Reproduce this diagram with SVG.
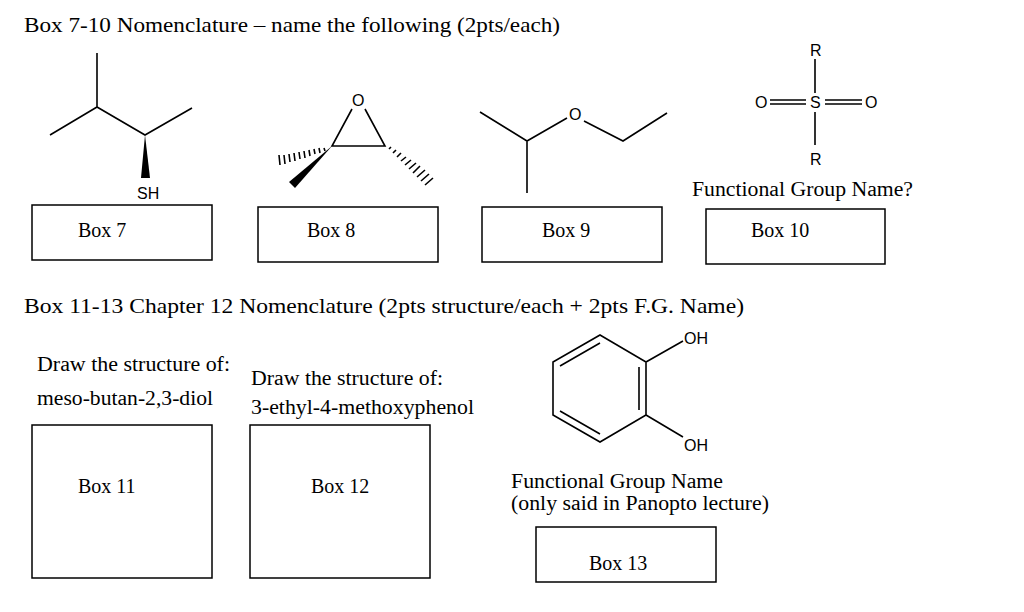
<svg xmlns="http://www.w3.org/2000/svg" width="1024" height="612" viewBox="0 0 1024 612">
<style>
.t{font-family:"Liberation Serif",serif;font-size:21px;fill:#000}
.b{font-family:"Liberation Serif",serif;font-size:20px;fill:#000}
.s{font-family:"Liberation Serif",serif;font-size:20px;fill:#000}
.a{font-family:"Liberation Sans",Arial,sans-serif;font-size:16px;fill:#000}
.bx{fill:#fff;stroke:#000;stroke-width:1.5}
.bd{stroke:#000;stroke-width:1.6;fill:none}
</style>
<rect width="1024" height="612" fill="#fff"/>
<text class="t" x="24" y="32" textLength="536" lengthAdjust="spacingAndGlyphs">Box 7-10 Nomenclature – name the following (2pts/each)</text>
<text class="t" x="24" y="313" textLength="720" lengthAdjust="spacingAndGlyphs">Box 11-13 Chapter 12 Nomenclature (2pts structure/each + 2pts F.G. Name)</text>
<g id="mol7">
<path class="bd" d="M97,53 V107 M50,135 L97,107 L145,135 L192,108"/>
<polygon points="145,135 141,178 150,178"/>
<text class="a" x="137" y="199">SH</text>
</g>
<g id="mol8">
<text class="a" x="352" y="106">O</text>
<path class="bd" d="M352,109 L332,146 L385,146 L365,109"/>
<polygon points="332,146 289,182 295,188"/>
<path class="bd" stroke-width="1.2" d="M279,155 L280,165 M284,155 L285,164 M289,154 L290,162 M294,153 L295,161 M299,152 L300,159 M304,151 L305,158 M309,150 L310,156 M314,149 L315,154 M319,148 L320,153 M324,148 L325,151"/>
<path class="bd" stroke-width="1.2" d="M389,149 L391,147 M393,153 L396,150 M397,157 L401,153 M401,161 L406,157 M405,165 L411,160 M409,169 L416,163 M413,173 L420,166 M417,177 L425,170 M421,181 L429,174 M425,185 L433,178"/>
</g>
<g id="mol9">
<path class="bd" d="M480,112 L527,141 L567,118 M584,121 L623,141 L667,113 M527,141 V193"/>
<text class="a" x="569" y="120">O</text>
</g>
<g id="mol10">
<text class="a" x="810" y="56">R</text>
<text class="a" x="810" y="165">R</text>
<text class="a" x="755" y="108">O</text>
<text class="a" x="810" y="108">S</text>
<text class="a" x="865" y="108">O</text>
<path class="bd" d="M815,59 V93 M815,112 V145 M770,100 H806 M770,104 H806 M825,100 H862 M825,104 H862"/>
<text class="s" x="692" y="196" textLength="221" lengthAdjust="spacingAndGlyphs">Functional Group Name?</text>
</g>
<g id="catechol">
<path class="bd" d="M600,335 L646,362 L646,415 L600,442 L553,415 L553,362 Z M560,366 L600,343 M639,367 V410 M560,411 L600,434 M646,362 L683,341 M646,415 L683,437"/>
<text class="a" x="684" y="344">OH</text>
<text class="a" x="684" y="451">OH</text>
</g>
<g id="texts">
<text class="s" x="37" y="371" textLength="193" lengthAdjust="spacingAndGlyphs">Draw the structure of:</text>
<text class="s" x="37" y="405" textLength="176" lengthAdjust="spacingAndGlyphs">meso-butan-2,3-diol</text>
<text class="s" x="251" y="385" textLength="192" lengthAdjust="spacingAndGlyphs">Draw the structure of:</text>
<text class="s" x="251" y="414" textLength="223" lengthAdjust="spacingAndGlyphs">3-ethyl-4-methoxyphenol</text>
<text class="s" x="511" y="488" textLength="212" lengthAdjust="spacingAndGlyphs">Functional Group Name</text>
<text class="s" x="511" y="510" textLength="258" lengthAdjust="spacingAndGlyphs">(only said in Panopto lecture)</text>
</g>
<g id="box7"><rect class="bx" x="32" y="205" width="180" height="55"/><text class="b" x="78" y="237">Box 7</text></g>
<g id="box8"><rect class="bx" x="258" y="207" width="180" height="55"/><text class="b" x="307" y="237">Box 8</text></g>
<g id="box9"><rect class="bx" x="482" y="207" width="180" height="55"/><text class="b" x="542" y="237">Box 9</text></g>
<g id="box10"><rect class="bx" x="706" y="209" width="179" height="55"/><text class="b" x="751" y="237">Box 10</text></g>
<g id="box11"><rect class="bx" x="32" y="425" width="180" height="153"/><text class="b" x="78" y="493">Box 11</text></g>
<g id="box12"><rect class="bx" x="250" y="425" width="180" height="153"/><text class="b" x="311" y="493">Box 12</text></g>
<g id="box13"><rect class="bx" x="536" y="527" width="180" height="55"/><text class="b" x="589" y="570">Box 13</text></g>
</svg>
